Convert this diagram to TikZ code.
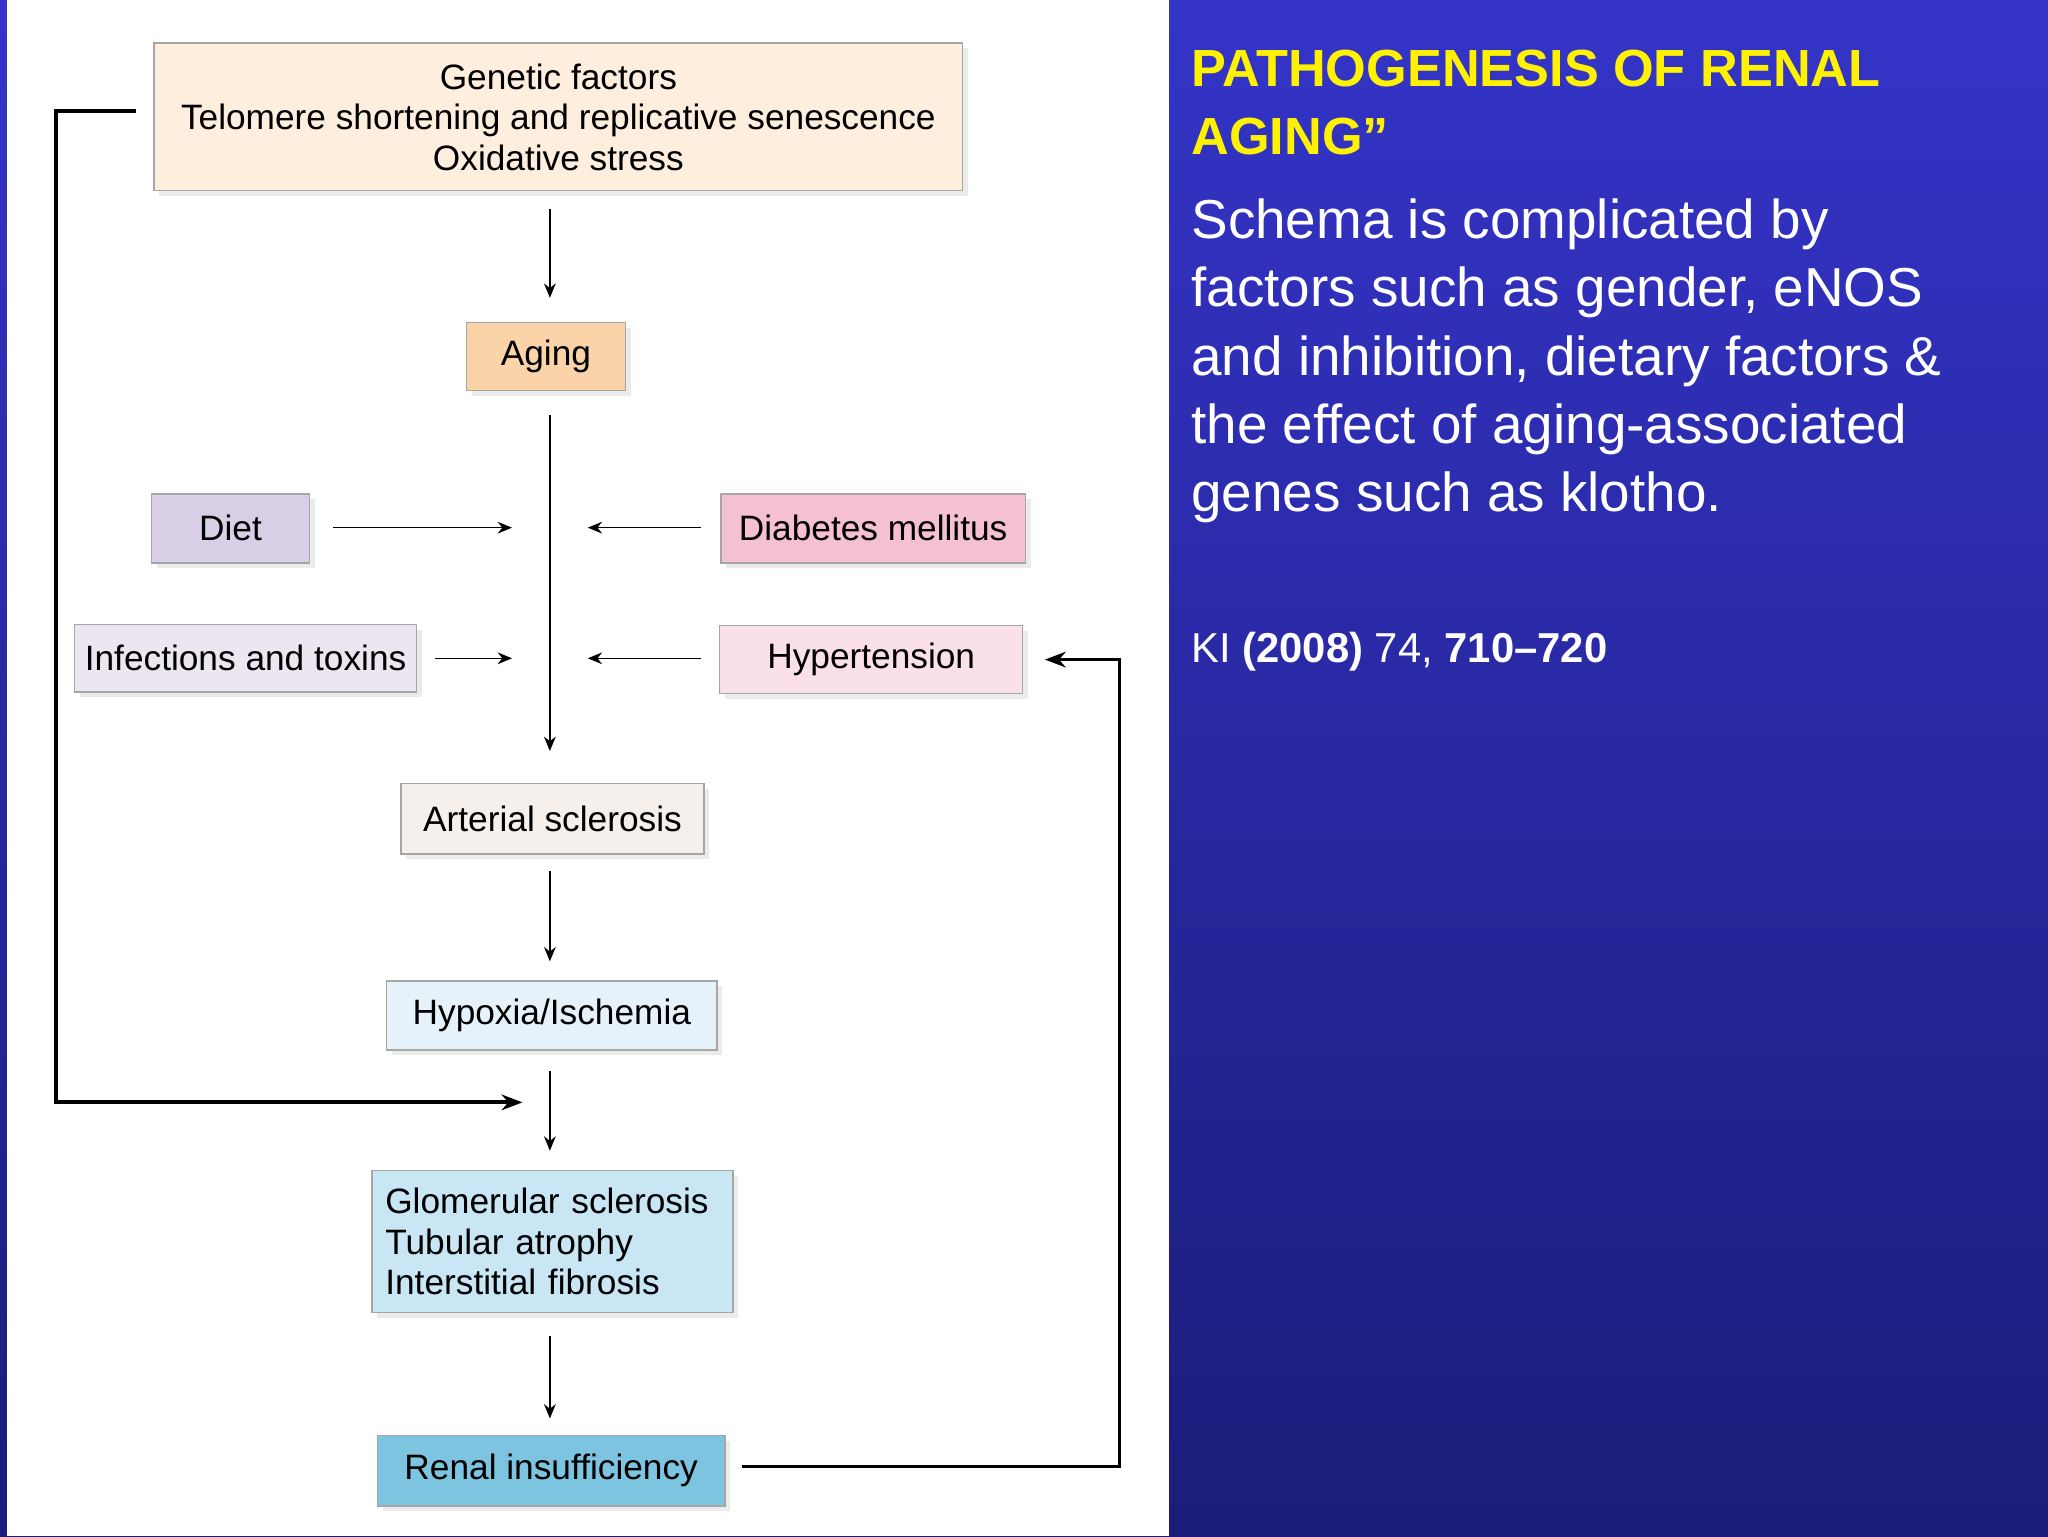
\documentclass[tikz,border=0pt]{standalone}
\usepackage{fontspec}
\setmainfont{Liberation Sans}
\usetikzlibrary{arrows.meta,shadows}
\definecolor{bgtop}{HTML}{3434C8}
\definecolor{bgbot}{HTML}{1C1C7A}
\begin{document}
\begin{tikzpicture}[x=1pt,y=-1pt,
 box/.style={draw=gray!70,line width=1.2pt,inner sep=0pt,font=\fontsize{27}{31}\selectfont,
   drop shadow={shadow xshift=4pt,shadow yshift=-4pt,fill=gray!30}},
 arr/.style={-{Stealth[length=11pt,width=9pt]},line width=1.2pt},
 fb/.style={-{Stealth[length=16pt,width=12pt]},line width=3pt},
 rt/.style={anchor=north west,align=flush left,text width=650pt,inner sep=0pt,text=white,font=\fontsize{42}{52}\selectfont}]
\useasboundingbox (0,0) rectangle (1568,1176);
\shade[top color=bgtop,bottom color=bgbot] (0,0) rectangle (1568,1176);
\fill[white] (5,0) rectangle (895,1176);
\node[box,fill={rgb,255:red,253;green,238;blue,222},minimum width=619pt,minimum height=113pt,align=center] (gen) at (427.5,89.5)
 {Genetic factors\\Telomere shortening and replicative senescence\\Oxidative stress};
\node[box,fill={rgb,255:red,250;green,212;blue,168},minimum width=122pt,minimum height=52pt] (aging) at (418,273) {Aging};
\node[box,fill={rgb,255:red,216;green,206;blue,230},minimum width=121pt,minimum height=53pt] (diet) at (176.5,404.5) {Diet};
\node[box,fill={rgb,255:red,245;green,192;blue,210},minimum width=233pt,minimum height=53pt] (diab) at (668.5,404.5) {Diabetes mellitus};
\node[box,fill={rgb,255:red,236;green,230;blue,240},minimum width=262pt,minimum height=52pt] (inf) at (188,504) {Infections and toxins};
\node[box,fill={rgb,255:red,249;green,224;blue,234},minimum width=232pt,minimum height=52pt] (hyp) at (667,505) {Hypertension};
\node[box,fill={rgb,255:red,246;green,240;blue,236},minimum width=232pt,minimum height=54pt] (art) at (423,627) {Arterial sclerosis};
\node[box,fill={rgb,255:red,230;green,242;blue,250},minimum width=253pt,minimum height=53pt] (hypox) at (422.5,777.5) {Hypoxia/Ischemia};
\node[box,fill={rgb,255:red,200;green,230;blue,244},minimum width=276pt,minimum height=109pt,align=left,text width=256pt] (glom) at (423,950.5)
 {Glomerular sclerosis\\Tubular atrophy\\Interstitial fibrosis};
\node[box,fill={rgb,255:red,124;green,196;blue,224},minimum width=266pt,minimum height=54pt] (ren) at (422,1126) {Renal insufficiency};
\coordinate (a1) at (421,160); \coordinate (a2) at (421,228);
\coordinate (b1) at (421,318); \coordinate (b2) at (421,575);
\coordinate (dl) at (392,404); \coordinate (dr) at (450,404);
\coordinate (il) at (392,504); \coordinate (ir) at (450,504);
\draw[arr] (a1) -- (a2);
\draw[arr] (b1) -- (b2);
\draw[arr] (255,404) -- (dl);
\draw[arr] (537,404) -- (dr);
\draw[arr] (333,504) -- (il);
\draw[arr] (537,504) -- (ir);
\draw[arr] (421,667) -- (421,736);
\draw[arr] (421,820) -- (421,881);
\draw[arr] (421,1023) -- (421,1086);
\coordinate (fs) at (104,85); \coordinate (fe) at (400,844);
\draw[fb,line join=miter] (fs) -- (43,85) -- (43,844) -- (fe);
\coordinate (rs) at (568,1123); \coordinate (re) at (800,505);
\draw[line width=2.2pt,-{Stealth[length=16pt,width=12pt]}] (rs) -- (857,1123) -- (857,505) -- (re);
\node[rt,text=yellow,font=\bfseries\fontsize{40}{52}\selectfont] (title) at (912,38) {PATHOGENESIS OF RENAL\\AGING”};
\node[rt,font=\fontsize{42}{52.3}\selectfont] (body) at (912,152) {Schema is complicated by\\factors such as gender, eNOS\\and inhibition, dietary factors \&\\the effect of aging-associated\\genes such as klotho.};
\node[rt,font=\fontsize{32}{36}\selectfont] (cite) at (912,484) {KI \textbf{(2008)} 74, \textbf{710–720}};
\end{tikzpicture}
\end{document}
